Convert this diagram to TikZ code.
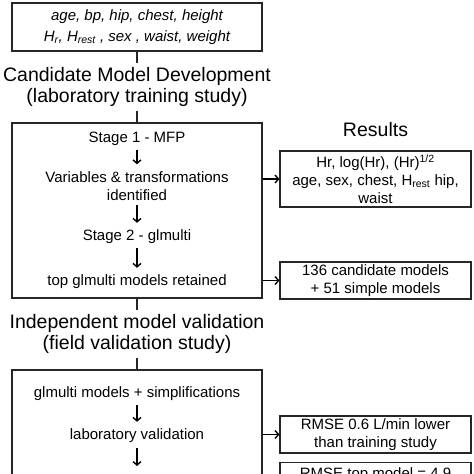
\documentclass[tikz,border=0pt]{standalone}
\usepackage{fontspec}
\setmainfont{Liberation Sans}
\usetikzlibrary{arrows.meta}
\begin{document}
\begin{tikzpicture}[x=1pt,y=-1pt,
  boxline/.style={draw=black!85, line width=1.1pt},
  box/.style={boxline, inner sep=0pt, align=center, font=\fontsize{15}{18}\selectfont},
  lbl/.style={inner sep=0pt, align=center, font=\fontsize{15}{18}\selectfont},
  ttl/.style={inner xsep=0pt, inner ysep=4pt, align=center, font=\fontsize{19.5}{21}\selectfont},
  rbox/.style={box, minimum width=191pt},
  arr/.style={line width=1.4pt, -{Straight Barb[length=3.5pt,width=8pt]}},
  conn/.style={line width=1.2pt, draw=black!85}]
\useasboundingbox (0,0) rectangle (474,474);
\clip (0,0) rectangle (474,474);
% input box
\node[box, minimum width=250pt, minimum height=48pt, font=\itshape\fontsize{15}{21}\selectfont] (inp) at (137,27)
  {age, bp, hip, chest, height\\H\textsubscript{r}, H\textsubscript{rest} , sex , waist, weight};
\node[ttl] (t1) at (137,87) {Candidate Model Development\\(laboratory training study)};
\node[box, minimum width=250pt, minimum height=175pt] (m1) at (137,210.5) {};
\node[lbl] (s1) at (137,139) {Stage 1 - MFP};
\node[lbl] (s2) at (137,186) {Variables \& transformations\\identified};
\node[lbl] (s3) at (137,237) {Stage 2 - glmulti};
\node[lbl] (s4) at (137,282) {top glmulti models retained};
\node[ttl] (t2) at (137,334) {Independent model validation\\(field validation study)};
\node[box, minimum width=250pt, minimum height=190pt] (m2) at (137,465) {};
\node[lbl] (v1) at (137,394) {glmulti models + simplifications};
\node[lbl] (v2) at (137,436) {laboratory validation};
\coordinate (v3) at (137,466);
% results
\node[font=\fontsize{19.5}{21}\selectfont, inner sep=0pt] (rt) at (375.5,130) {Results};
\node[rbox, minimum height=56pt] (r1) at (375.5,179)
  {Hr, log(Hr), (Hr)\textsuperscript{1/2}\\age, sex, chest, H\textsubscript{rest} hip,\\waist};
\node[rbox, minimum height=37pt] (r2) at (375.5,280.5) {136 candidate models\\+ 51 simple models};
\node[rbox, minimum height=37pt] (r3) at (375.5,434.5) {RMSE 0.6 L/min lower\\than training study};
\node[rbox, anchor=north, inner ysep=2pt, text height=13.5pt, text depth=19.5pt] (r4) at (375.5,462) {RMSE top model = 4.9};
% connectors
\draw[conn] (inp) -- (t1);
\draw[conn] (t1) -- (m1);
\draw[conn] (m1) -- (t2);
\draw[conn] (t2) -- (m2);
\draw[arr, shorten <=4pt, shorten >=7pt] (s1) -- (s2);
\draw[arr, shorten <=4pt, shorten >=7pt] (s2) -- (s3);
\draw[arr, shorten <=4pt, shorten >=7pt] (s3) -- (s4);
\draw[arr, shorten <=4pt, shorten >=7pt] (v1) -- (v2);
\draw[arr, shorten <=5pt] (v2) -- (v3);
\draw[arr] (m1.east |- r1.west) -- (r1.west);
\draw[arr] (m1.east |- r2.west) -- (r2.west);
\draw[arr] (m2.east |- r3.west) -- (r3.west);
\end{tikzpicture}
\end{document}
